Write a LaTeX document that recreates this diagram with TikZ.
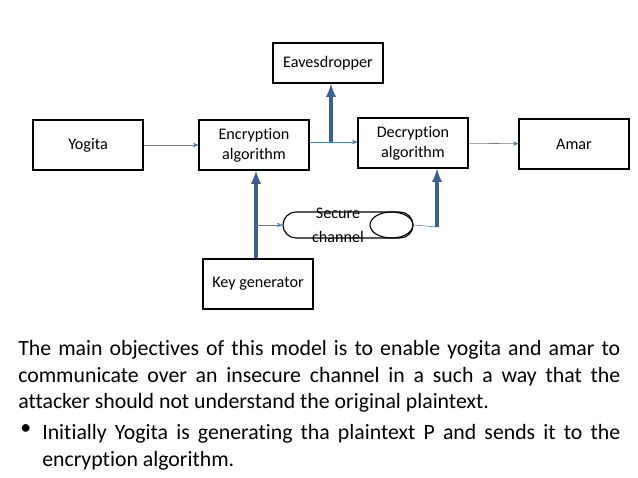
\documentclass[tikz,border=0pt]{standalone}
\usepackage{fontspec}
\setmainfont{Carlito}[Ligatures={NoCommon,NoRequired,NoContextual}]
\usetikzlibrary{positioning}
\usetikzlibrary{arrows}
\usetikzlibrary{shapes.geometric}
\usetikzlibrary{shapes.misc}

\definecolor{steel}{RGB}{79,129,189}
\definecolor{darksteel}{RGB}{60,96,150}

\tikzset{
	box/.style = {draw, thick, minimum width = 110*0.025cm, minimum height = 50*0.025cm, align = center, font = \fontsize{11.5}{14}\selectfont},
	thin arrow/.style = {draw = steel, ->, >=stealth', thin},
	thick arrow/.style = {draw = darksteel, line width = 2.2pt, ->, >=latex}
}

\begin{document}
\hyphenpenalty=10000
\begin{tikzpicture}[x = 0.025cm, y = -0.025cm]
		\useasboundingbox (0,0) rectangle (638,478);
		
		\node[box] (Y) at (88,145) {Yogita};
		\node[box] (E) at (254,145) {Encryption\\algorithm};
		\node[box, minimum height = 40*0.025cm] (V) at (328,63) {Eavesdropper};
		\node[box] (D) at (413,143) {Decryption\\algorithm};
		\node[box] (A) at (574,144) {Amar};
		\node[box] (K) at (258,284) {Key generator};
		\node[rounded rectangle, draw, thick, minimum width = 130*0.025cm, minimum height = 26*0.025cm, inner sep = 0pt] (S) at (348,225) {};
		\node[ellipse, draw, thick, minimum width = 43*0.025cm, minimum height = 26*0.025cm, inner sep = 0pt] (SE) at (391.5,225) {};
		\node[align = center, font = \fontsize{11.5}{17}\selectfont] (SL) at (338,225) {Secure\\channel};
		
		\coordinate (J) at (331,142);
		\coordinate (KJ) at (256,225);
		\coordinate (DJ) at (437,227);
		
		\draw[thin arrow] (Y) -- (E);
		\draw[thin arrow] (E.east |- J) -- (D.west |- J);
		\draw[thick arrow] (J) -- (J |- V.south);
		\draw[thick arrow] (K.north -| KJ) -- (E.south -| KJ);
		\draw[thin arrow] (KJ) -- (S.west);
		\draw[draw = steel] (S.east) -- (DJ);
		\draw[thick arrow] (DJ) -- (DJ |- D.south);
		\draw[thin arrow] (D) -- (A);
		
		\node[text width = 602*0.025cm, align = justify, anchor = north west, font = \fontsize{15.5}{19}\selectfont, inner sep = 0pt] (T) at (18,340) {The main objectives of this model is to enable yogita and amar to communicate over an insecure channel in a such a way that the attacker should not understand the original plaintext.};
		\node[text width = 578*0.025cm, align = justify, anchor = north west, font = \fontsize{15.5}{19}\selectfont, inner sep = 0pt] (B) at (42,424) {Initially Yogita is generating tha plaintext P and sends it to the encryption algorithm.};
		\node[anchor = north west, font = \fontsize{15.5}{19}\selectfont, inner sep = 0pt] (BL) at (20,424) {•};
	\end{tikzpicture}
\end{document}
